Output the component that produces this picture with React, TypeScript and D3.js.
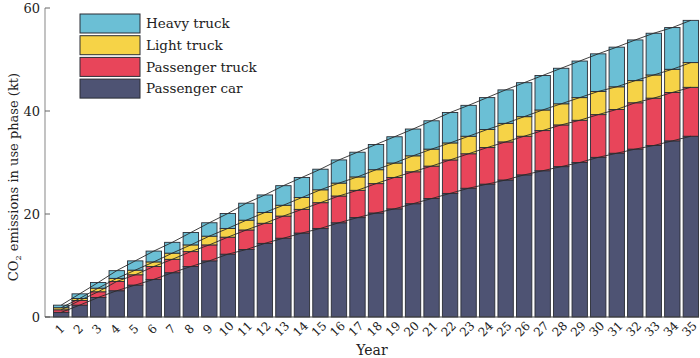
import React from "react";
import * as d3 from "d3";

const years = [1, 2, 3, 4, 5, 6, 7, 8, 9, 10, 11, 12, 13, 14, 15, 16, 17, 18, 19, 20, 21, 22, 23, 24, 25, 26, 27, 28, 29, 30, 31, 32, 33, 34, 35];
const passengerCar = [0.9, 2.3, 3.8, 5.1, 6.2, 7.3, 8.6, 9.8, 10.9, 12.2, 13.1, 14.3, 15.3, 16.3, 17.2, 18.3, 19.3, 20.2, 21.0, 22.0, 23.0, 24.0, 25.0, 25.8, 26.6, 27.6, 28.4, 29.2, 30.0, 31.0, 31.8, 32.6, 33.3, 34.2, 35.1];
const passengerTruck = [0.5, 0.9, 1.1, 1.8, 2.0, 2.5, 2.6, 2.9, 3.1, 3.3, 3.8, 3.9, 4.3, 4.6, 5.0, 5.2, 5.3, 5.7, 6.1, 6.2, 6.3, 6.5, 6.7, 7.1, 7.4, 7.5, 7.8, 8.1, 8.2, 8.3, 8.5, 9.0, 9.2, 9.4, 9.5];
const lightTruck = [0.4, 0.4, 0.7, 0.6, 0.9, 0.9, 1.2, 1.3, 1.7, 1.7, 1.9, 2.1, 2.1, 2.3, 2.5, 2.5, 2.6, 2.7, 2.8, 3.1, 3.3, 3.3, 3.4, 3.5, 3.6, 3.8, 4.0, 4.1, 4.4, 4.5, 4.4, 4.3, 4.5, 4.5, 4.8];
const heavyTruck = [0.5, 0.9, 1.1, 1.5, 1.8, 2.1, 2.1, 2.4, 2.6, 2.9, 3.3, 3.4, 3.8, 3.9, 4.0, 4.5, 4.8, 4.9, 5.1, 5.2, 5.5, 5.9, 6.0, 6.2, 6.5, 6.6, 6.7, 6.9, 7.1, 7.3, 7.7, 7.9, 8.1, 8.1, 8.2];

const seriesNames = ["Passenger car", "Passenger truck", "Light truck", "Heavy truck"];
const seriesColors = ["#4e5373", "#e8455a", "#f6d347", "#6bbfd5"];
const yTicks = [0, 20, 40, 60];

const FONT = "'DejaVu Serif', 'Liberation Serif', serif";

export default function App() {
  const W = 700;
  const H = 358;
  const x = d3.scaleBand<number>().domain(years).range([52, 700]).paddingInner(0.17).paddingOuter(0.08);
  const y = d3.scaleLinear().domain([0, 60]).range([317, 8]);
  const bw = x.bandwidth();

  const table = years.map((yr, i) => ({
    year: yr,
    "Passenger car": passengerCar[i],
    "Passenger truck": passengerTruck[i],
    "Light truck": lightTruck[i],
    "Heavy truck": heavyTruck[i],
  }));
  const stacked = d3.stack<any>().keys(seriesNames)(table);
  const levels: number[][] = stacked.map((s) => s.map((d) => d[1]));
  const centers = years.map((yr) => (x(yr) as number) + bw / 2);

  const line = d3
    .line<number>()
    .x((_, i) => centers[i])
    .y((d) => y(d));

  const legendItems = [...seriesNames].reverse();

  return (
    <svg width={W} height={H} style={{ position: "absolute", left: 0, top: 0, background: "#fff" }} fontFamily={FONT}>
      {/* bars */}
      {stacked.map((s, k) => (
        <g key={seriesNames[k]} fill={seriesColors[k]} stroke="#2a2d35" strokeWidth={0.9}>
          {s.map((d, i) => (
            <rect
              key={years[i]}
              x={x(years[i]) as number}
              width={bw}
              y={y(d[1])}
              height={y(d[0]) - y(d[1])}
            />
          ))}
        </g>
      ))}
      {/* connector lines */}
      {levels.map((lv, k) => (
        <path key={k} d={line(lv) || ""} fill="none" stroke="#2a2a2a" strokeWidth={0.9} />
      ))}
      {/* y axis */}
      <line x1={45} x2={45} y1={y(60)} y2={y(0)} stroke="#9a9a9a" strokeWidth={1.2} />
      {yTicks.map((t) => (
        <g key={t}>
          <line x1={45} x2={50} y1={y(t)} y2={y(t)} stroke="#666" strokeWidth={1} />
          <text x={40} y={y(t)} dy="0.35em" textAnchor="end" fontSize={13} fill="#222">
            {t}
          </text>
        </g>
      ))}
      {/* x axis */}
      <line x1={45} x2={699} y1={y(0)} y2={y(0)} stroke="#444" strokeWidth={1.2} />
      {years.map((yr, i) => (
        <text
          key={yr}
          transform={`translate(${centers[i] - 1.5},${329}) rotate(-45)`}
          textAnchor="middle"
          dy="0.35em"
          fontSize={12}
          fill="#222"
        >
          {yr}
        </text>
      ))}
      <text x={372} y={355} textAnchor="middle" fontSize={14} fill="#222">
        Year
      </text>
      <text transform={`translate(18,177) rotate(-90)`} textAnchor="middle" fontSize={13} fill="#222">
        CO<tspan fontSize={8} dy={3}>2</tspan>
        <tspan dy={-3}> emissions in use phase (kt)</tspan>
      </text>
      {/* legend */}
      {legendItems.map((name, j) => {
        const k = seriesNames.indexOf(name);
        const ty = 14 + j * 21.7;
        return (
          <g key={name}>
            <rect x={80} y={ty} width={60} height={19} fill={seriesColors[k]} stroke="#2a2d35" strokeWidth={1} />
            <text x={146} y={ty + 9.5} dy="0.35em" fontSize={13.5} fill="#222">
              {name}
            </text>
          </g>
        );
      })}
    </svg>
  );
}
